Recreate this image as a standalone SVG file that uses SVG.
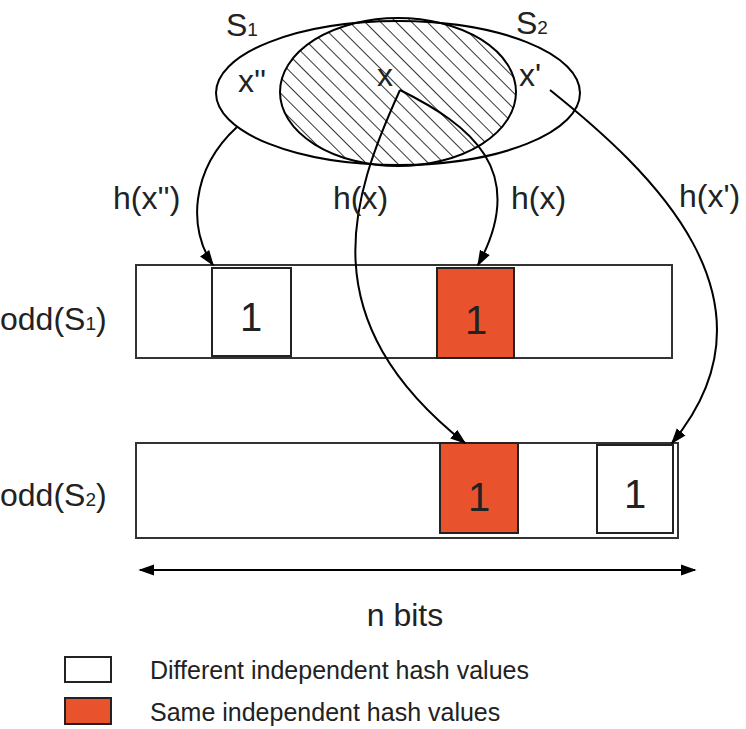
<svg xmlns="http://www.w3.org/2000/svg" width="746" height="729" viewBox="0 0 746 729">
<style>
text{font-family:"Liberation Sans",Arial,sans-serif;fill:#222}
.big{font-size:32px}
.dg{font-size:40px}
.lg{font-size:25px}
.bar{fill:#fff;stroke:#333;stroke-width:2}
.red{fill:#e8532e;stroke:#222;stroke-width:2}
.wb{fill:#fff;stroke:#222;stroke-width:2}
.con{fill:none;stroke:#000;stroke-width:2}
</style>
<defs>
<marker id="ah2" viewBox="0 0 10 10" refX="9" refY="5" markerWidth="16" markerHeight="16" markerUnits="userSpaceOnUse" orient="auto-start-reverse"><path d="M0,1.5 L10,5 L0,8.5 Z" fill="#000"/></marker>
<pattern id="hatch" width="11" height="11" patternUnits="userSpaceOnUse" patternTransform="rotate(-45)"><line x1="0" y1="0" x2="0" y2="11" stroke="#000" stroke-width="1.6"/></pattern>
</defs>
<g id="sets">
<ellipse cx="398" cy="93" rx="182" ry="72" fill="#fff" stroke="#000" stroke-width="2"/>
<ellipse cx="398" cy="92" rx="118" ry="74" fill="url(#hatch)" stroke="#000" stroke-width="2"/>
<text class="big" x="226" y="36">S<tspan font-size="19">1</tspan></text>
<text class="big" x="516" y="34">S<tspan font-size="19">2</tspan></text>
<text class="big" x="238" y="92">x''</text>
<text class="big" x="377" y="86">x</text>
<text class="big" x="519" y="86">x'</text>
</g>
<g id="odd1">
<rect class="bar" x="136" y="265" width="536" height="93"/>
<rect class="wb" x="212" y="268" width="79" height="88"/>
<text class="dg" x="251" y="331" text-anchor="middle">1</text>
<rect class="red" x="437" y="268" width="77" height="90"/>
<text class="dg" x="476" y="334" text-anchor="middle">1</text>
<text class="big" x="0" y="330">odd(S<tspan font-size="19">1</tspan>)</text>
</g>
<g id="odd2">
<rect class="bar" x="136" y="443" width="542" height="95"/>
<rect class="red" x="440" y="443" width="78" height="90"/>
<text class="dg" x="479" y="511" text-anchor="middle">1</text>
<rect class="wb" x="597" y="445" width="76" height="88"/>
<text class="dg" x="635" y="508" text-anchor="middle">1</text>
<text class="big" x="0" y="506">odd(S<tspan font-size="19">2</tspan>)</text>
</g>
<g id="connectors">
<path class="con" d="M237,127 C190,170 188,230 213,265" marker-end="url(#ah2)"/>
<path class="con" d="M400,90 C470,125 530,170 478,265" marker-end="url(#ah2)"/>
<path class="con" d="M400,90 C350,200 310,320 465,443" marker-end="url(#ah2)"/>
<path class="con" d="M550,90 C650,170 790,300 672,443" marker-end="url(#ah2)"/>
<path class="con" d="M140,570 L695,570" marker-start="url(#ah2)" marker-end="url(#ah2)"/>
<text class="big" x="113" y="209">h(x'')</text>
<text class="big" x="333" y="209">h(x)</text>
<text class="big" x="511" y="209">h(x)</text>
<text class="big" x="679" y="207">h(x')</text>
<text class="big" x="405" y="626" text-anchor="middle">n bits</text>
</g>
<g id="legend">
<rect class="wb" x="65" y="657" width="46" height="25"/>
<text class="lg" x="150" y="679">Different independent hash values</text>
<rect class="red" x="65" y="698" width="46" height="26"/>
<text class="lg" x="150" y="721">Same independent hash values</text>
</g>
</svg>
